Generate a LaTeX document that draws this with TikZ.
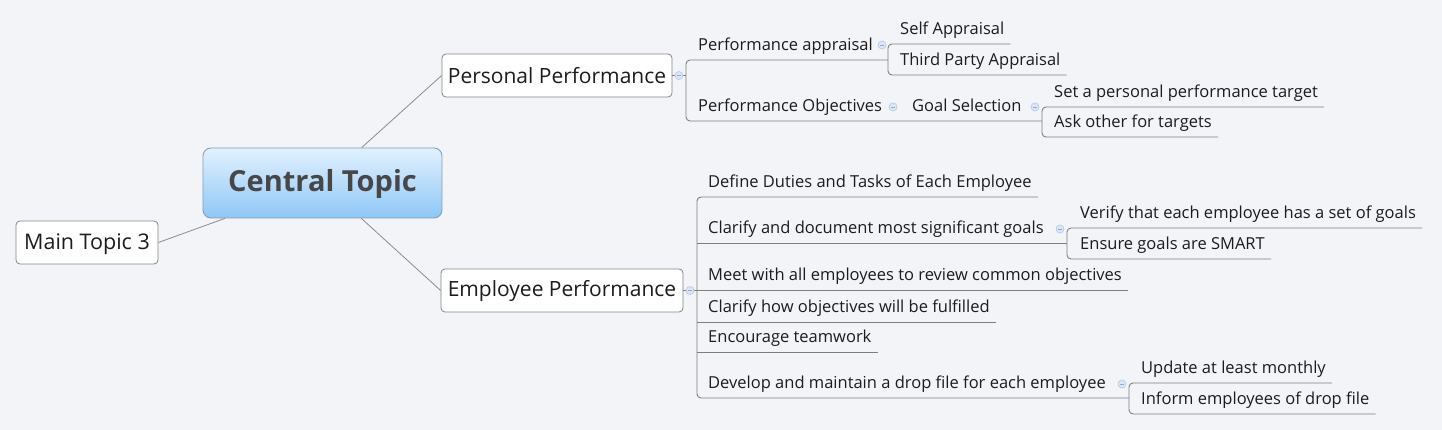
\documentclass[tikz,border=0pt]{standalone}
\usepackage{fontspec}
\setmainfont{Open Sans}
\usetikzlibrary{calc}
\definecolor{bg}{HTML}{F2F4F8}
\definecolor{lncol}{HTML}{7E7E7E}
\definecolor{conncol}{HTML}{8C8C8C}
\definecolor{boxcol}{HTML}{858585}
\definecolor{txt}{HTML}{1C1C1C}
\definecolor{ctop}{HTML}{E2F1FE}
\definecolor{cbot}{HTML}{8EC7F6}
\definecolor{cborder}{HTML}{7F9BB5}
\definecolor{ctxt}{HTML}{474747}
\definecolor{circf}{HTML}{DCE7F6}
\definecolor{circb}{HTML}{AFC5E6}
\definecolor{circm}{HTML}{8FA9CF}
\begin{document}
\begin{tikzpicture}[x=1pt,y=-1pt,
  ln/.style={draw=lncol, line width=0.9pt, rounded corners=4pt},
  conn/.style={draw=conncol, line width=0.8pt},
  sub/.style={inner sep=0pt, anchor=south west, text height=12pt, text depth=9.5pt,
    font=\fontsize{16.5}{19}\selectfont, text=txt},
  topic/.style={draw=boxcol, fill=white, rounded corners=4pt, line width=0.8pt,
    inner sep=0pt, minimum height=43pt, text depth=3pt,
    font=\fontsize{21}{25}\selectfont, text=txt},
  ccl/.style={circle, draw=circb, fill=circf, minimum size=8pt, inner sep=0pt, line width=0.6pt,
    path picture={\draw[circm, line width=0.7pt]
      ([xshift=-2pt]path picture bounding box.center) -- ([xshift=2pt]path picture bounding box.center);}},
]
\fill[bg] (0,0) rectangle (1442,430);
\useasboundingbox (0,0) rectangle (1442,430);

% central and main topics
\node[draw=cborder, line width=0.8pt, rounded corners=8pt, top color=ctop, bottom color=cbot,
  minimum width=239pt, minimum height=70pt, inner sep=0pt, text height=21pt, text depth=3pt,
  font=\fontsize{29}{33}\bfseries\selectfont, text=ctxt] (central) at (322.5,183) {Central Topic};
\node[topic, minimum width=142pt, text height=17pt, font=\fontsize{21.5}{25}\selectfont] (main3) at (87,242.5) {Main Topic 3};
\node[topic, minimum width=230pt, text height=19pt] (pp) at (557,75.5) {Personal Performance};
\node[topic, minimum width=242pt, text height=15pt] (ep) at (562,290.5) {Employee Performance};

\draw[conn] (central) -- (main3.east);
\draw[conn] (central) -- (pp.west);
\draw[conn] (central) -- (ep.west);

% Personal Performance branch
\node[sub] (pa) at (698,60) {Performance appraisal};
\node[sub] (po) at (698,121) {Performance Objectives};
\node[sub] (gs) at (912,121) {Goal Selection};
\node[sub] (sa) at (900,44) {Self Appraisal};
\node[sub] (tpa) at (900,75) {Third Party Appraisal};
\node[sub] (spt) at (1054,107) {Set a personal performance target};
\node[sub] (aot) at (1054,137) {Ask other for targets};

\coordinate (ppb) at (686,75.5);
\draw[ln] (pp.east) -- (ppb);
\draw[ln] (888,60) -- (686,60) -- (686,121) -- (1042,121);
\draw[ln] ($(sa.south east)+(6,0)$) -- (888,44) -- (888,75) -- ($(tpa.south east)+(6,0)$);
\draw[ln] ($(spt.south east)+(6,0)$) -- (1042,107) -- (1042,137) -- ($(aot.south east)+(6,0)$);

\node[ccl] (cpp) at (679,75.5) {};
\node[ccl] (cpa) at (882,45) {};
\node[ccl] (cpo) at (893,107) {};
\node[ccl] (cgs) at (1035,107) {};

% Employee Performance branch
\node[sub] (dd) at (708,197) {Define Duties and Tasks of Each Employee};
\node[sub] (cd) at (708,243) {Clarify and document most significant goals};
\node[sub] (mw) at (708,290.5) {Meet with all employees to review common objectives};
\node[sub] (ch) at (708,322) {Clarify how objectives will be fulfilled};
\node[sub] (et) at (708,352) {Encourage teamwork};
\node[sub] (dm) at (708,398) {Develop and maintain a drop file for each employee};
\node[sub] (vf) at (1080,228) {Verify that each employee has a set of goals};
\node[sub] (es) at (1080,259) {Ensure goals are SMART};
\node[sub] (ua) at (1141,383) {Update at least monthly};
\node[sub] (ie) at (1141,414) {Inform employees of drop file};

\coordinate (epb) at (697,290.5);
\draw[ln] (ep.east) -- (epb);
\draw[ln] ($(dd.south east)+(6,0)$) -- (697,197) -- (697,398) -- (1129,398);
\draw[ln] (697,243) -- (1067,243);
\draw[ln] (697,290.5) -- ($(mw.south east)+(6,0)$);
\draw[ln] (697,322) -- ($(ch.south east)+(6,0)$);
\draw[ln] (697,352) -- ($(et.south east)+(6,0)$);
\draw[ln] ($(vf.south east)+(6,0)$) -- (1067,228) -- (1067,259) -- ($(es.south east)+(6,0)$);
\draw[ln] ($(ua.south east)+(6,0)$) -- (1129,383) -- (1129,414) -- ($(ie.south east)+(6,0)$);

\node[ccl] (cep) at (690,290.5) {};
\node[ccl] (ccd) at (1060,229) {};
\node[ccl] (cdm) at (1122,384) {};
\end{tikzpicture}
\end{document}
